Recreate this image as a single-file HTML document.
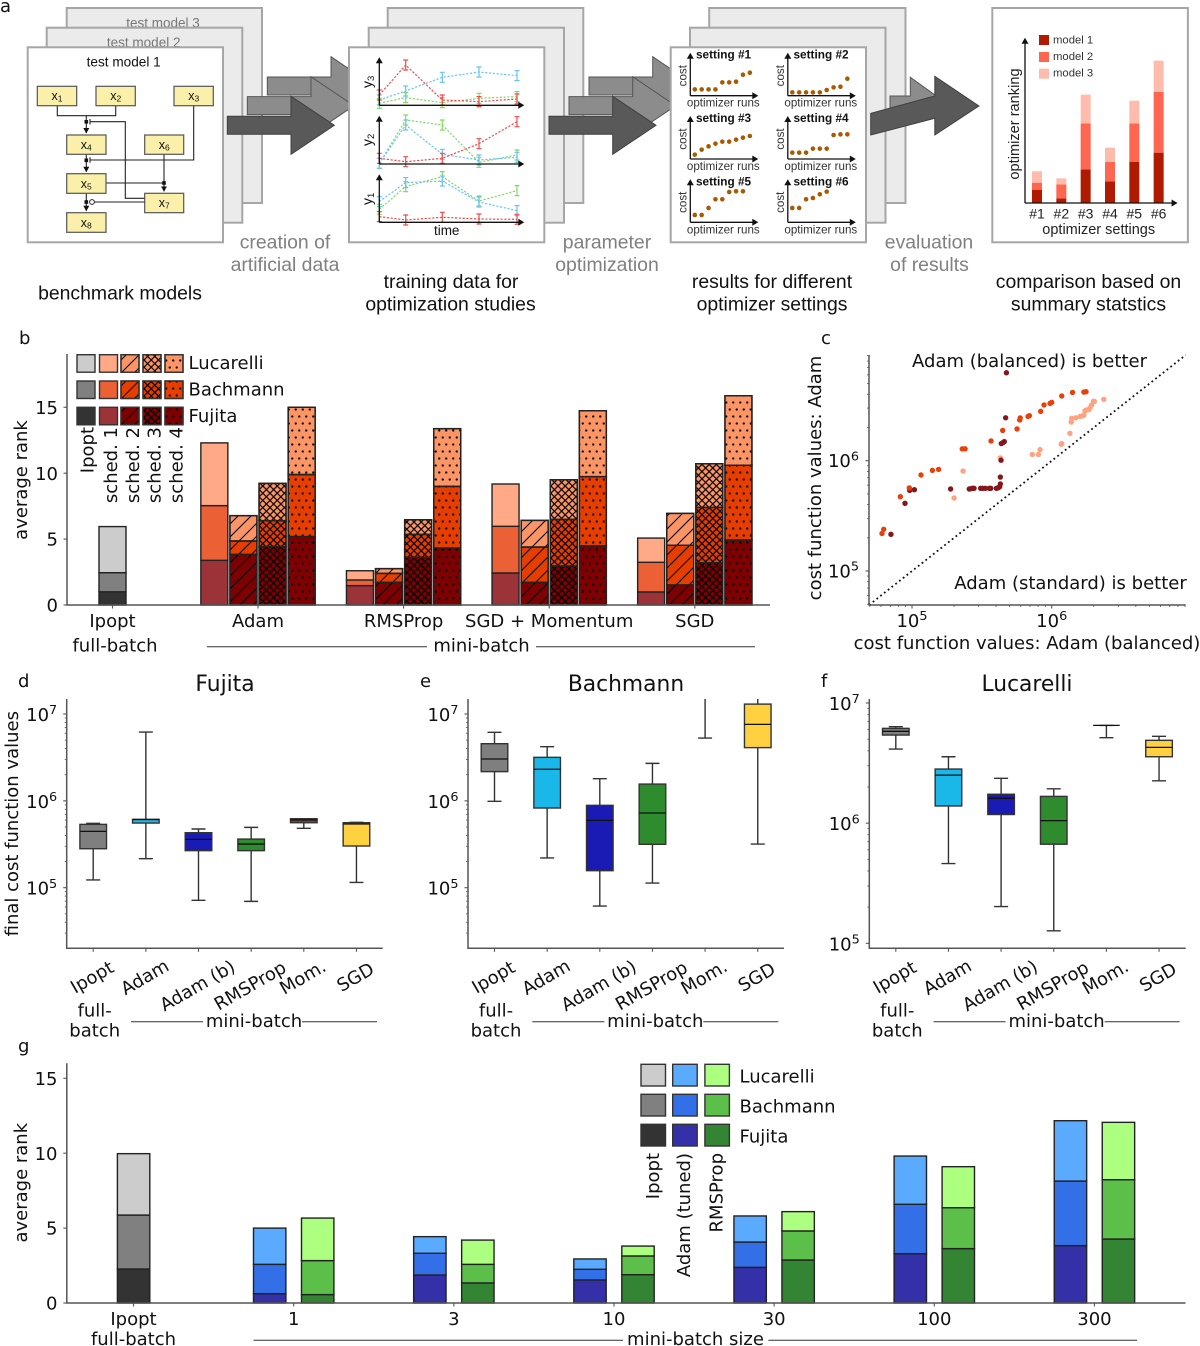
<!DOCTYPE html>
<html lang="en">
<head>
<meta charset="utf-8">
<title>Optimizer benchmark figure</title>
<style>
html,body{margin:0;padding:0;background:#fff}
svg{display:block}
.dj{font-family:"DejaVu Sans",sans-serif;font-size:18px;fill:#111}
.ls{font-family:"Liberation Sans",sans-serif;fill:#111}
.cap{font-family:"Liberation Sans",sans-serif;font-size:19.4px;fill:#111;text-anchor:middle}
.gcap{font-family:"Liberation Sans",sans-serif;font-size:19.4px;fill:#808080;text-anchor:middle}
.mid{text-anchor:middle}
.bx{fill:#faf0aa;stroke:#555;stroke-width:1.2}
.wire{fill:none;stroke:#222;stroke-width:1.1}
.sheet{stroke:#a6a6a6;stroke-width:2;fill:#ebebeb}
.sheet1{stroke:#a6a6a6;stroke-width:2;fill:#fff}
</style>
</head>
<body>
<svg id="fig" xmlns="http://www.w3.org/2000/svg" width="1200" height="1346" viewBox="0 0 1200 1346">
<defs>
<pattern id="h-slash" patternUnits="userSpaceOnUse" width="13" height="13"><path d="M-2 15L15 -2M-2 2L2 -2M11 15L15 11" stroke="#000" stroke-width="1.1" fill="none"/></pattern>
<pattern id="h-cross" patternUnits="userSpaceOnUse" width="7.2" height="7.2"><path d="M0 7.2L7.2 0M0 0L7.2 7.2" stroke="#000" stroke-width="1.15" fill="none"/></pattern>
<pattern id="h-dots" patternUnits="userSpaceOnUse" width="7" height="14"><circle cx="1.75" cy="3.5" r="1.15" fill="#000"/><circle cx="5.25" cy="10.5" r="1.15" fill="#000"/></pattern>
<marker id="arrow-small" markerWidth="7" markerHeight="7" refX="5" refY="3" orient="auto" markerUnits="userSpaceOnUse"><path d="M0 0L5.5 3L0 6Z" fill="#111"/></marker>
</defs>

<g id="panel-a">
  <text class="dj" x="0" y="12">a</text>

  <g>
    <rect class="sheet" x="66.7" y="8" width="195.3" height="195"/>
    <text class="ls mid" x="163" y="27.5" font-size="13.5" style="fill:#777">test model 3</text>
    <rect class="sheet" x="46.7" y="27.7" width="195.6" height="195"/>
    <text class="ls mid" x="143.7" y="47" font-size="13.5" style="fill:#777">test model 2</text>
    <rect class="sheet1" x="27.7" y="47.3" width="195.3" height="195"/>
    <text class="ls mid" x="123.7" y="66.5" font-size="13.6">test model 1</text>
    <g>
      <path class="wire" d="M57.3 105.7V115.7H115.7V105.7"/>
      <path class="wire" d="M86.3 115.7V133" marker-end="url(#arrow-small)"/>
      <path class="wire" d="M90 121.7H125.3V198.3H144.7M90 119V124.5"/>
      <path class="wire" d="M193.7 105.7V160H90M90 157.3V162.7"/>
      <path class="wire" d="M86.3 154.3V171.7" marker-end="url(#arrow-small)"/>
      <path class="wire" d="M106 183H164"/>
      <path class="wire" d="M164 154.3V191.3" marker-end="url(#arrow-small)"/>
      <path class="wire" d="M86.3 193.3V210.7" marker-end="url(#arrow-small)"/>
      <path class="wire" d="M94.7 202H144.7"/>
      <circle cx="92" cy="202" r="2.4" fill="#fff" stroke="#222" stroke-width="1"/>
      <rect x="84.5" y="120" width="3.6" height="3.6" fill="#111"/>
      <rect x="84.5" y="158.5" width="3.6" height="3.6" fill="#111"/>
      <rect x="84.5" y="200.2" width="3.6" height="3.6" fill="#111"/>
      <rect x="162.2" y="181.2" width="3.6" height="3.6" fill="#111"/>
    </g>
    <g><rect class="bx" x="37.3" y="86.3" width="39.4" height="19.4"/><text class="ls mid" x="57" y="100" font-size="12.5">x<tspan font-size="8.5" dy="1.5">1</tspan></text></g>
    <g><rect class="bx" x="96" y="86.3" width="39.3" height="19.4"/><text class="ls mid" x="115.7" y="100" font-size="12.5">x<tspan font-size="8.5" dy="1.5">2</tspan></text></g>
    <g><rect class="bx" x="174" y="86.3" width="39.3" height="19.4"/><text class="ls mid" x="193.7" y="100" font-size="12.5">x<tspan font-size="8.5" dy="1.5">3</tspan></text></g>
    <g><rect class="bx" x="66.7" y="135" width="39.3" height="19.3"/><text class="ls mid" x="86.3" y="149" font-size="12.5">x<tspan font-size="8.5" dy="1.5">4</tspan></text></g>
    <g><rect class="bx" x="144.7" y="135" width="39" height="19.3"/><text class="ls mid" x="164.2" y="149" font-size="12.5">x<tspan font-size="8.5" dy="1.5">6</tspan></text></g>
    <g><rect class="bx" x="66.7" y="173.7" width="39.3" height="19.6"/><text class="ls mid" x="86.3" y="188" font-size="12.5">x<tspan font-size="8.5" dy="1.5">5</tspan></text></g>
    <g><rect class="bx" x="144.7" y="193.3" width="39" height="19.4"/><text class="ls mid" x="164.2" y="207" font-size="12.5">x<tspan font-size="8.5" dy="1.5">7</tspan></text></g>
    <g><rect class="bx" x="66.7" y="212.7" width="39.3" height="19.6"/><text class="ls mid" x="86.3" y="227" font-size="12.5">x<tspan font-size="8.5" dy="1.5">8</tspan></text></g>
  </g>

  <g>
    <path d="M267.3 77H331V56.7L374.3 86L331 115.3V95H267.3Z" fill="#8c8c8c" stroke="#555" stroke-width="1"/>
    <path d="M247.3 96.6H311V76.7L354 105.7L311 134.7V114.6H247.3Z" fill="#8c8c8c" stroke="#555" stroke-width="1"/>
    <path d="M227.3 116.3H291V96.3L334.3 125.3L291 154.3V134.3H227.3Z" fill="#595959" stroke="#404040" stroke-width="1"/>
  </g>

  <g>
    <rect class="sheet" x="387.7" y="8" width="195.6" height="195"/>
    <rect class="sheet" x="368.7" y="27.7" width="195.3" height="195"/>
    <rect class="sheet1" x="349" y="47.3" width="195.3" height="195"/>
    <g id="training-plots"></g>
    <text class="ls" transform="translate(372,88) rotate(-90)" font-size="14">y<tspan font-size="9.5" dy="2">3</tspan></text>
    <text class="ls" transform="translate(372,146) rotate(-90)" font-size="14">y<tspan font-size="9.5" dy="2">2</tspan></text>
    <text class="ls" transform="translate(372,205) rotate(-90)" font-size="14">y<tspan font-size="9.5" dy="2">1</tspan></text>
    <text class="ls mid" x="446.7" y="235" font-size="13.5">time</text>
  </g>

  <g transform="translate(321.7,0)">
    <path d="M267.3 77H331V56.7L374.3 86L331 115.3V95H267.3Z" fill="#8c8c8c" stroke="#555" stroke-width="1"/>
    <path d="M247.3 96.6H311V76.7L354 105.7L311 134.7V114.6H247.3Z" fill="#8c8c8c" stroke="#555" stroke-width="1"/>
    <path d="M227.3 116.3H291V96.3L334.3 125.3L291 154.3V134.3H227.3Z" fill="#595959" stroke="#404040" stroke-width="1"/>
  </g>

  <g>
    <rect class="sheet" x="709.2" y="8" width="196.3" height="195"/>
    <rect class="sheet" x="690" y="27.7" width="195.5" height="195"/>
    <rect class="sheet1" x="670.7" y="47.3" width="195.3" height="195"/>
    <g id="setting-plots"></g>
  </g>

  <g>
    <path d="M910.3 77.3L935 95V110H890V96H910.3Z" fill="#8c8c8c" stroke="#555" stroke-width="1"/>
    <path d="M870.7 113.3L934.8 96V76.3L978.9 106L934.8 135V118.3L870.7 135Z" fill="#595959" stroke="#404040" stroke-width="1"/>
  </g>

  <g>
    <rect class="sheet1" x="992.3" y="8" width="195.6" height="234.3"/>
    <g id="ranking-plot"></g>
    <rect x="1039" y="35" width="10" height="10" fill="#b01a00"/>
    <rect x="1039" y="52" width="10" height="10" fill="#ff6650"/>
    <rect x="1039" y="68.7" width="10" height="10" fill="#ffbcac"/>
    <text class="ls" x="1053" y="43.3" font-size="11.3" style="fill:#333">model 1</text>
    <text class="ls" x="1053" y="60" font-size="11.3" style="fill:#333">model 2</text>
    <text class="ls" x="1053" y="76.6" font-size="11.3" style="fill:#333">model 3</text>
    <text class="ls mid" transform="translate(1019,124) rotate(-90)" font-size="14.6" style="fill:#222">optimizer ranking</text>
    <text class="ls mid" x="1098.7" y="234" font-size="14.5" style="fill:#222">optimizer settings</text>
  </g>

  <text class="cap" x="120" y="299.6">benchmark models</text>
  <text class="gcap" x="285" y="248.6">creation of</text>
  <text class="gcap" x="285" y="271">artificial data</text>
  <text class="cap" x="451" y="288">training data for</text>
  <text class="cap" x="450.5" y="310.4">optimization studies</text>
  <text class="gcap" x="607" y="248.6">parameter</text>
  <text class="gcap" x="607" y="271">optimization</text>
  <text class="cap" x="772" y="288">results for different</text>
  <text class="cap" x="772" y="310.4">optimizer settings</text>
  <text class="gcap" x="929" y="248.6">evaluation</text>
  <text class="gcap" x="929.5" y="271">of results</text>
  <text class="cap" x="1088.5" y="288">comparison based on</text>
  <text class="cap" x="1088.5" y="310.4">summary statstics</text>
</g>

<g id="panel-b">
  <text class="dj" x="19" y="344">b</text>
  <text class="dj mid" transform="translate(27,480) rotate(-90)">average rank</text>
  <text class="dj mid" x="115" y="651.5">full-batch</text>
  <text class="dj mid" x="481.5" y="651.5">mini-batch</text>
  <path d="M207 646.7H427M536 646.7H755" stroke="#333" stroke-width="1"/>
  <text class="dj" x="188.5" y="369">Lucarelli</text>
  <text class="dj" x="188.5" y="395.5">Bachmann</text>
  <text class="dj" x="188.5" y="422">Fujita</text>
  <text class="dj" text-anchor="end" transform="translate(93.5,427) rotate(-90)">Ipopt</text>
  <text class="dj" text-anchor="end" transform="translate(117,427) rotate(-90)">sched. 1</text>
  <text class="dj" text-anchor="end" transform="translate(139,427) rotate(-90)">sched. 2</text>
  <text class="dj" text-anchor="end" transform="translate(160.5,427) rotate(-90)">sched. 3</text>
  <text class="dj" text-anchor="end" transform="translate(182.5,427) rotate(-90)">sched. 4</text>
</g>

<g id="panel-c">
  <text class="dj" x="821" y="344">c</text>
  <text class="dj mid" transform="translate(821,478) rotate(-90)">cost function values: Adam</text>
  <text class="dj mid" x="1027" y="649">cost function values: Adam (balanced)</text>
  <text class="dj mid" x="1029.5" y="367">Adam (balanced) is better</text>
  <text class="dj mid" x="1070.5" y="589">Adam (standard) is better</text>
</g>

<g id="panel-d">
  <text class="dj" x="18" y="687">d</text>
  <text class="dj mid" x="225" y="691" style="font-size:21.8px">Fujita</text>
  <text class="dj mid" transform="translate(18,823.7) rotate(-90)">final cost function values</text>
</g>
<g id="panel-e">
  <text class="dj" x="420" y="687">e</text>
  <text class="dj mid" x="626" y="691" style="font-size:21.8px">Bachmann</text>
</g>
<g id="panel-f">
  <text class="dj" x="821" y="687">f</text>
  <text class="dj mid" x="1027" y="691" style="font-size:21.8px">Lucarelli</text>
</g>

<g id="panel-g">
  <text class="dj" x="18" y="1052">g</text>
  <text class="dj mid" transform="translate(27,1182.7) rotate(-90)">average rank</text>
  <text class="dj mid" x="133.5" y="1345">full-batch</text>
  <text class="dj mid" x="695.5" y="1345">mini-batch size</text>
  <path d="M253.5 1340.3H623M768.4 1340.3H1137" stroke="#333" stroke-width="1"/>
  <text class="dj" x="739.5" y="1082.5">Lucarelli</text>
  <text class="dj" x="739.5" y="1112.5">Bachmann</text>
  <text class="dj" x="739.5" y="1142.5">Fujita</text>
  <text class="dj" text-anchor="end" transform="translate(659,1153) rotate(-90)">Ipopt</text>
  <text class="dj" text-anchor="end" transform="translate(690,1153) rotate(-90)">Adam (tuned)</text>
  <text class="dj" text-anchor="end" transform="translate(722.5,1153) rotate(-90)">RMSProp</text>
</g>
</svg>

<script>
/* ---------- panel a: mini-plot values ---------- */
const trainY3Red = [10.3, 40.3, 5.3, 3.7, 6.3];
const trainY3Blue = [5.3, 14.3, 28, 33.3, 29.7];
const trainY3Green = [2, 7.7, 2.7, 7, 8.7];
const trainY2Red = [5.7, 2.3, 5.7, 20.3, 42.3];
const trainY2Blue = [0.7, 39, 9.7, 4, 6.7];
const trainY2Green = [0.7, 44, 39, 1.7, 9];
const trainY1Red = [5.7, 2.3, 5, 3.3, 3];
const trainY1Blue = [20.7, 39.7, 41.3, 20.3, 11.7];
const trainY1Green = [13, 35.7, 45.7, 21.3, 31.7];
const settingTitles = ['setting #1', 'setting #2', 'setting #3', 'setting #4', 'setting #5', 'setting #6'];
const settingCost1 = [19, 19, 19, 19, 40, 40, 42, 63, 69];
const settingCost2 = [10, 10, 10, 10, 10, 17, 25, 27, 51];
const settingCost3 = [13, 28, 38, 46, 52, 52, 58, 64, 69];
const settingCost4 = [19, 19, 19, 31, 31, 31, 72, 74, 74];
const settingCost5 = [22, 22, 43, 69, 69, 91, 93, 93];
const settingCost6 = [43, 43, 69, 73, 84, 92];
const rankCategories = ['#1', '#2', '#3', '#4', '#5', '#6'];
const rankModel1 = [40, 14, 101, 65, 123, 151];
const rankModel2 = [21, 42, 138, 58, 116, 182];
const rankModel3 = [34, 18, 86, 43, 68, 94];

/* ---------- panel b ---------- */
const bCategories = ['Adam', 'RMSProp', 'SGD + Momentum', 'SGD'];
const bTicks = [0, 5, 10, 15];
const ipoptFujitaB = 1.0;
const ipoptBachmannB = 1.45;
const ipoptLucarelliB = 3.5;
const adamFujita = [3.39, 3.84, 4.43, 5.19];
const adamBachmann = [4.15, 1.02, 1.97, 4.71];
const adamLucarelli = [4.76, 1.92, 2.83, 5.1];
const rmsFujita = [1.47, 1.72, 3.62, 4.32];
const rmsBachmann = [0.43, 0.68, 1.74, 4.68];
const rmsLucarelli = [0.7, 0.36, 1.11, 4.38];
const momFujita = [2.43, 1.72, 2.96, 4.48];
const momBachmann = [3.54, 2.68, 3.54, 5.26];
const momLucarelli = [3.21, 2.02, 3.0, 5.0];
const sgdFujita = [0.99, 1.52, 3.21, 4.93];
const sgdBachmann = [2.25, 3.01, 4.2, 5.67];
const sgdLucarelli = [1.84, 2.42, 3.31, 5.28];

/* ---------- panel c ---------- */
const bachmannBalanced = [6.1e4,6.27e4,8.25e4,9.57e4,1.16e5,1.40e5,1.55e5,2.29e5,2.40e5,3.68e5,4.46e5,5.65e5,5.90e5,5.95e5,6.77e5,6.92e5,8.34e5,8.81e5,9.73e5,1e6,1.18e6,1.41e6,1.70e6,1.76e6];
const bachmannStandard = [2.19e5,2.39e5,4.72e5,5.65e5,7.42e5,8.17e5,8.34e5,1.28e6,1.28e6,1.51e6,1.88e6,1.94e6,2.34e6,2.44e6,2.52e6,2.56e6,2.80e6,3.20e6,3.31e6,3.38e6,3.86e6,4.16e6,4.19e6,4.22e6];
const lucarelliBalanced = [9.57e4,2.00e5,2.32e5,4.29e5,7.27e5,8.03e5,8.25e5,1.17e6,1.18e6,1.35e6,1.38e6,1.39e6,1.49e6,1.60e6,1.67e6,1.70e6,1.73e6,1.76e6,1.84e6,1.88e6,1.93e6,1.99e6,2.02e6,2.36e6];
const lucarelliStandard = [5.69e5,4.59e5,8.06e5,1.06e6,1.14e6,1.14e6,1.26e6,1.41e6,1.43e6,1.77e6,2.24e6,2.42e6,2.45e6,2.52e6,2.56e6,2.59e6,2.82e6,2.88e6,2.90e6,3.02e6,3.20e6,3.45e6,3.45e6,3.60e6];
const fujitaBalanced = [7.07e4,8.91e4,9.62e4,1.04e5,1.89e5,2.57e5,2.65e5,2.70e5,2.78e5,3.10e5,3.21e5,3.35e5,3.58e5,3.66e5,4.02e5,4.15e5,4.24e5,4.29e5,4.29e5,4.34e5,4.36e5,4.48e5,4.58e5,4.68e5,4.74e5];
const fujitaStandard = [2.15e5,4.11e5,5.38e5,5.46e5,5.54e5,5.54e5,5.58e5,5.62e5,5.62e5,5.62e5,5.62e5,5.62e5,5.62e5,5.62e5,5.62e5,5.69e5,5.81e5,6.15e5,7.11e5,1.01e6,1.43e6,1.46e6,1.49e6,2.45e6,6.27e6];

/* ---------- panels d, e, f ---------- */
const boxCategories = ['Ipopt', 'Adam', 'Adam (b)', 'RMSProp', 'Mom.', 'SGD'];
const fujitaLow = [1.23e5, 2.16e5, 7.15e4, 6.96e4, 4.83e5, 1.15e5];
const fujitaQ1 = [2.81e5, 5.55e5, 2.67e5, 2.67e5, 5.60e5, 3.02e5];
const fujitaMedian = [4.45e5, 6.1e5, 3.60e5, 3.18e5, 6.02e5, 5.41e5];
const fujitaQ3 = [5.36e5, 6.12e5, 4.30e5, 3.63e5, 6.23e5, 5.60e5];
const fujitaHigh = [5.51e5, 6.2e6, 4.74e5, 4.95e5, 6.23e5, 5.66e5];
const bachmannLow = [9.87e5, 2.20e5, 6.15e4, 1.13e5, 5.29e6, 3.18e5];
const bachmannQ1 = [2.17e6, 8.27e5, 1.57e5, 3.16e5, 2.2e7, 4.10e6];
const bachmannMedian = [3.03e6, 2.31e6, 5.96e5, 7.24e5, 2.6e7, 7.60e6];
const bachmannQ3 = [4.55e6, 3.17e6, 8.88e5, 1.56e6, 2.8e7, 1.30e7];
const bachmannHigh = [6.15e6, 4.20e6, 1.80e6, 2.70e6, 3.0e7, 2.0e7];
const lucarelliLow = [4.14e6, 4.61e5, 2.02e5, 1.27e5, 5.14e6, 2.25e6];
const lucarelliQ1 = [5.41e6, 1.39e6, 1.18e6, 6.68e5, 6.51e6, 3.57e6];
const lucarelliMedian = [5.81e6, 2.51e6, 1.61e6, 1.05e6, 6.51e6, 4.27e6];
const lucarelliQ3 = [6.15e6, 2.82e6, 1.74e6, 1.67e6, 6.51e6, 4.89e6];
const lucarelliHigh = [6.35e6, 3.57e6, 2.36e6, 1.93e6, 6.51e6, 5.28e6];

/* ---------- panel g ---------- */
const batchSizes = ['1', '3', '10', '30', '100', '300'];
const gTicks = [0, 5, 10, 15];
const ipoptFujitaG = 2.27;
const ipoptBachmannG = 3.6;
const ipoptLucarelliG = 4.1;
const adamTunedFujita = [0.62, 1.87, 1.54, 2.38, 3.29, 3.83];
const adamTunedBachmann = [1.96, 1.45, 0.71, 1.69, 3.3, 4.31];
const adamTunedLucarelli = [2.42, 1.11, 0.69, 1.74, 3.22, 4.03];
const rmsBatchFujita = [0.56, 1.34, 1.89, 2.87, 3.63, 4.27];
const rmsBatchBachmann = [2.27, 1.24, 1.25, 1.94, 2.73, 3.96];
const rmsBatchLucarelli = [2.84, 1.62, 0.66, 1.29, 2.74, 3.83];

/* ---------- helpers ---------- */
const NS = 'http://www.w3.org/2000/svg';
const AXIS = '#555';
function mk(tag, props, parent) {
  const el = document.createElementNS(NS, tag);
  for (const k in props) el.setAttribute(k, props[k]);
  
  parent.appendChild(el);
  return el;
}
function lin(d0, p0, d1, p1) { return v => p0 + (v - d0) * (p1 - p0) / (d1 - d0); }
function logS(d0, p0, d1, p1) { return v => p0 + (Math.log10(v) - Math.log10(d0)) * (p1 - p0) / (Math.log10(d1) - Math.log10(d0)); }
function txt(parent, s, x, y, anchor) {
  const t = mk('text', { x: x, y: y, class: 'dj', 'text-anchor': anchor || 'middle' }, parent);
  t.textContent = s;
  return t;
}
function powerLabel(parent, k, x, y, anchor) {
  const t = mk('text', { x: x, y: y, class: 'dj', 'text-anchor': anchor }, parent);
  t.textContent = '10';
  const s = mk('tspan', { dy: -6.8, style: 'font-size:12.8px' }, t);
  s.textContent = String(k);
  return t;
}

/* ---------- panel a drawings ---------- */
function arrowAxis(parent, x0, yTop, yBase, xEnd) {
  const a = mk('path', { d: 'M' + x0 + ' ' + yBase + 'V' + (yTop + 5) + 'M' + x0 + ' ' + yBase + 'H' + (xEnd - 5), stroke: '#111', 'stroke-width': 1.3, fill: 'none' }, parent);
  
  const h1 = mk('path', { d: 'M' + (x0 - 3.5) + ' ' + (yTop + 6) + 'L' + x0 + ' ' + yTop + 'L' + (x0 + 3.5) + ' ' + (yTop + 6) + 'Z', fill: '#111' }, parent);
  
  const h2 = mk('path', { d: 'M' + (xEnd - 6) + ' ' + (yBase - 3.5) + 'L' + xEnd + ' ' + yBase + 'L' + (xEnd - 6) + ' ' + (yBase + 3.5) + 'Z', fill: '#111' }, parent);
  
}
(function trainingPlots() {
  const host = document.getElementById('training-plots');
  const xs = [379.3, 405.7, 442.3, 479, 517];
  const rows = [
    { base: 105.3, top: 57.3, red: trainY3Red, blue: trainY3Blue, green: trainY3Green },
    { base: 164, top: 115.7, red: trainY2Red, blue: trainY2Blue, green: trainY2Green },
    { base: 222.3, top: 174.3, red: trainY1Red, blue: trainY1Blue, green: trainY1Green }
  ];
  rows.forEach(row => {
    [['#7fdc5f', row.green], ['#66c2ff', row.blue], ['#f04b4b', row.red]].forEach(pair => {
      const col = pair[0], vals = pair[1];
      const pts = vals.map((v, i) => xs[i] + ',' + (row.base - v)).join(' ');
      const line = mk('polyline', { points: pts, fill: 'none', stroke: col, 'stroke-width': 1.2, 'stroke-dasharray': '2.2 1.6' }, host);
      
      vals.forEach((v, i) => {
        const y = row.base - v, x = xs[i];
        const e = mk('path', { d: 'M' + x + ' ' + (y - 5) + 'V' + (y + 5) + 'M' + (x - 2.5) + ' ' + (y - 5) + 'H' + (x + 2.5) + 'M' + (x - 2.5) + ' ' + (y + 5) + 'H' + (x + 2.5), stroke: col, 'stroke-width': 1.2, fill: 'none' }, host);
        
      });
    });
    arrowAxis(host, 379.3, row.top, row.base, 524.3);
  });
})();
(function settingPlots() {
  const host = document.getElementById('setting-plots');
  const series = [settingCost1, settingCost2, settingCost3, settingCost4, settingCost5, settingCost6];
  const colX = [690.3, 787.8];
  const rowBase = [95.7, 159, 222.3];
  series.forEach((vals, idx) => {
    const c = idx % 2, r = Math.floor(idx / 2);
    const x0 = colX[c], base = rowBase[r];
    arrowAxis(host, x0, base - 43, base, x0 + 68);
    const title = mk('text', { x: x0 + 5.7, y: base - 37, class: 'ls', 'font-size': 11.8, 'font-weight': 'bold' }, host);
    title.textContent = settingTitles[idx];
    
    const xl = mk('text', { x: x0 + 33, y: base + 11, class: 'ls', 'font-size': 11.6, 'text-anchor': 'middle', style: 'fill:#333' }, host);
    xl.textContent = 'optimizer runs';
    
    const yl = mk('text', { transform: 'translate(' + (x0 - 4) + ',' + (base - 20) + ') rotate(-90)', class: 'ls', 'font-size': 11.6, 'text-anchor': 'middle', style: 'fill:#333' }, host);
    yl.textContent = 'cost';
    
    vals.forEach((v, i) => {
      const d = mk('circle', { cx: x0 + 4.5 + i * 6.88, cy: base - v / 3, r: 2.3, fill: '#a85a00' }, host);
      
    });
  });
})();
(function rankingPlot() {
  const host = document.getElementById('ranking-plot');
  const y0 = 203;
  const cx = i => 1037 + i * 24.33;
  rankCategories.forEach((cat, i) => {
    let acc = 0;
    [[rankModel1, '#b01a00'], [rankModel2, '#ff6650'], [rankModel3, '#ffbcac']].forEach(pair => {
      const h = pair[0][i] / 3;
      const b = mk('rect', { x: cx(i) - 5, y: y0 - acc - h, width: 10, height: h, fill: pair[1] }, host);
      
      acc += h;
    });
    const t = mk('text', { x: cx(i), y: 218.5, class: 'ls', 'font-size': 14, 'text-anchor': 'middle', style: 'fill:#222' }, host);
    t.textContent = cat;
    
  });
  arrowAxis(host, 1025, 37.7, 203, 1177.6);
})();

/* ---------- stacked bars ---------- */
function segBar(parent, cx, w, y, base, vals, fills, hatch) {
  let acc = base;
  vals.forEach((v, i) => {
    const top = acc + v;
    const yT = y(top), yB = y(acc);
    const r = mk('rect', { x: cx - w / 2, y: yT, width: w, height: yB - yT, fill: fills[i], stroke: '#222', 'stroke-width': 1.4 }, parent);
    
    if (hatch) {
      const o = mk('rect', { x: cx - w / 2, y: yT, width: w, height: yB - yT, fill: 'url(#' + hatch + ')', stroke: '#222', 'stroke-width': 1.4 }, parent);
      
    }
    acc = top;
  });
}
function swatch(parent, x, y, w, h, fill, hatch) {
  const r = mk('rect', { x: x, y: y, width: w, height: h, fill: fill, stroke: '#333', 'stroke-width': 1.4 }, parent);
  
  if (hatch) {
    const o = mk('rect', { x: x, y: y, width: w, height: h, fill: 'url(#' + hatch + ')', stroke: '#333', 'stroke-width': 1.4 }, parent);
    
  }
}

/* ---------- panel b ---------- */
(function panelB() {
  const host = document.getElementById('panel-b');
  const y = lin(0, 605, 15, 407.3);
  const ipoptFill = ['#333333', '#808080', '#cccccc'];
  const schedFills = [
    ['#9c3338', '#ec6035', '#ffa987'],
    ['#7f0000', '#e63d00', '#fb9566'],
    ['#7f0000', '#e63d00', '#fb9566'],
    ['#7f0000', '#e63d00', '#fb9566']
  ];
  const schedHatch = [null, 'h-slash', 'h-cross', 'h-dots'];
  const groups = [
    [adamFujita, adamBachmann, adamLucarelli],
    [rmsFujita, rmsBachmann, rmsLucarelli],
    [momFujita, momBachmann, momLucarelli],
    [sgdFujita, sgdBachmann, sgdLucarelli]
  ];
  const gx = i => 258 + i * 145.6;
  segBar(host, 112.5, 27, y, 0, [ipoptFujitaB, ipoptBachmannB, ipoptLucarelliB], ipoptFill, null);
  groups.forEach((g, gi) => {
    [0, 1, 2, 3].forEach(s => {
      segBar(host, gx(gi) - 43.65 + s * 29.1, 27, y, 0, [g[0][s], g[1][s], g[2][s]], schedFills[s], schedHatch[s]);
    });
  });
  const ax = mk('path', { d: 'M67 354V605H770', stroke: AXIS, 'stroke-width': 1.5, fill: 'none' }, host);
  
  bTicks.forEach(v => {
    const t = mk('path', { d: 'M63.5 ' + y(v) + 'H67', stroke: AXIS, 'stroke-width': 1.1 }, host);
    
    const l = txt(host, String(v), 58, y(v) + 6.6, 'end');
    
  });
  const tk = mk('path', { d: 'M112.5 605V608.5', stroke: AXIS, 'stroke-width': 1.1 }, host);
  
  const ipl = txt(host, 'Ipopt', 112.5, 627);
  
  bCategories.forEach((c, i) => {
    const t = mk('path', { d: 'M' + gx(i) + ' 605V608.5', stroke: AXIS, 'stroke-width': 1.1 }, host);
    
    const l = txt(host, c, gx(i), 627);
    
  });
  const rowsY = [354.7, 381, 407.3];
  const colsX = [77, 99.5, 121, 143, 165];
  const lucF = [ipoptFill[2], schedFills[0][2], schedFills[1][2], schedFills[1][2], schedFills[1][2]];
  const bacF = [ipoptFill[1], schedFills[0][1], schedFills[1][1], schedFills[1][1], schedFills[1][1]];
  const fujF = [ipoptFill[0], schedFills[0][0], schedFills[1][0], schedFills[1][0], schedFills[1][0]];
  const hat = [null, null, 'h-slash', 'h-cross', 'h-dots'];
  [lucF, bacF, fujF].forEach((row, r) => {
    row.forEach((f, c) => swatch(host, colsX[c], rowsY[r], 18, 17.5, f, hat[c]));
  });
})();

/* ---------- panel c ---------- */
(function panelC() {
  const host = document.getElementById('panel-c');
  const x = logS(1e5, 912, 1e6, 1051.7);
  const y = logS(1e5, 571, 1e6, 460.7);
  const L = 869, R = 1185.7, T = 355, B = 605;
  const diag = mk('path', { d: 'M' + L + ' ' + B + 'L' + R + ' ' + T, stroke: '#111', 'stroke-width': 1.8, 'stroke-dasharray': '1.8 3', fill: 'none' }, host);
  
  [[lucarelliBalanced, lucarelliStandard, '#ffa27f'], [fujitaBalanced, fujitaStandard, '#85171c'], [bachmannBalanced, bachmannStandard, '#e8400a']].forEach(s => {
    s[0].forEach((v, i) => {
      const c = mk('circle', { cx: x(v), cy: y(s[1][i]), r: 2.7, fill: s[2] }, host);
      
    });
  });
  const ax = mk('path', { d: 'M' + L + ' ' + T + 'V' + B + 'H' + R, stroke: AXIS, 'stroke-width': 1.5, fill: 'none' }, host);
  
  [4, 5, 6].forEach(k => {
    for (let m = 1; m < 10; m++) {
      const v = m * Math.pow(10, k);
      const len = m === 1 ? 3.5 : 2;
      if (x(v) >= L && x(v) <= R) {
        const t = mk('path', { d: 'M' + x(v) + ' ' + B + 'V' + (B + len), stroke: AXIS, 'stroke-width': m === 1 ? 1.1 : 0.8 }, host);
        
      }
      if (y(v) >= T && y(v) <= B) {
        const t = mk('path', { d: 'M' + (L - len) + ' ' + y(v) + 'H' + L, stroke: AXIS, 'stroke-width': m === 1 ? 1.1 : 0.8 }, host);
        
      }
    }
  });
  [5, 6].forEach(k => {
    const a = powerLabel(host, k, x(Math.pow(10, k)), 627, 'middle');
    
    const b = powerLabel(host, k, 859, y(Math.pow(10, k)) + 6.4, 'end');
    
  });
})();

/* ---------- panels d, e, f ---------- */
const boxFills = ['#7f7f7f', '#1ab8e8', '#1a1ab5', '#2e8b2e', '#6e4a2f', '#ffd040'];
function boxPanel(hostId, clipId, L, R, y10e5, y10e7, yLabels, low, q1, med, q3, high) {
  const host = document.getElementById(hostId);
  const T = 699, B = 948.3;
  const y = logS(1e5, y10e5, 1e7, y10e7);
  const cp = mk('clipPath', { id: clipId }, host);
  
  const cr = mk('rect', { x: L, y: T, width: R - L, height: B - T }, cp);
  
  const g = mk('g', { 'clip-path': 'url(#' + clipId + ')' }, host);
  
  const cx = i => L + 26.5 + i * 52.65;
  boxCategories.forEach((c, i) => {
    const X = cx(i);
    const wh = mk('path', { d: 'M' + X + ' ' + y(low[i]) + 'V' + y(q1[i]) + 'M' + X + ' ' + y(q3[i]) + 'V' + y(high[i]) + 'M' + (X - 7) + ' ' + y(low[i]) + 'H' + (X + 7) + 'M' + (X - 7) + ' ' + y(high[i]) + 'H' + (X + 7), stroke: '#333', 'stroke-width': 1.4, fill: 'none' }, g);
    
    const b = mk('rect', { x: X - 13.3, y: y(q3[i]), width: 26.6, height: y(q1[i]) - y(q3[i]), fill: boxFills[i], stroke: '#333', 'stroke-width': 1.4 }, g);
    
    const m = mk('path', { d: 'M' + (X - 13.3) + ' ' + y(med[i]) + 'H' + (X + 13.3), stroke: '#111', 'stroke-width': 1.3 }, g);
    
    const t = mk('path', { d: 'M' + X + ' ' + B + 'V' + (B + 3.5), stroke: AXIS, 'stroke-width': 1.1 }, host);
    
    const l = mk('text', { class: 'dj', 'text-anchor': 'middle', transform: 'translate(' + (X + 2) + ',' + (c === 'Adam (b)' || c === 'RMSProp' ? 991 : 982.5) + ') rotate(-30)' }, host);
    l.textContent = c;
    
  });
  const ax = mk('path', { d: 'M' + L + ' ' + T + 'V' + B + 'H' + R, stroke: AXIS, 'stroke-width': 1.5, fill: 'none' }, host);
  
  [4, 5, 6, 7].forEach(k => {
    for (let m = 1; m < 10; m++) {
      const v = m * Math.pow(10, k);
      if (y(v) < T || y(v) > B) continue;
      const len = m === 1 ? 3.5 : 2;
      const t = mk('path', { d: 'M' + (L - len) + ' ' + y(v) + 'H' + L, stroke: AXIS, 'stroke-width': m === 1 ? 1.1 : 0.8 }, host);
      
    }
  });
  yLabels.forEach(k => {
    const p = powerLabel(host, k, L - 9.5, y(Math.pow(10, k)) + 7, 'end');
    
  });
  const f1 = txt(host, 'full-', L + 28, 1016.7);
  
  const f2 = txt(host, 'batch', L + 28, 1036.5);
  
  const mb = txt(host, 'mini-batch', L + 187.3, 1027);
  
  const br = mk('path', { d: 'M' + (L + 64.3) + ' 1021.7H' + (L + 136.3) + 'M' + (L + 235.3) + ' 1021.7H' + (L + 310.3), stroke: '#333', 'stroke-width': 1 }, host);
  
}
boxPanel('panel-d', 'clip-d', 66.7, 382.7, 887.7, 714, [5, 6, 7], fujitaLow, fujitaQ1, fujitaMedian, fujitaQ3, fujitaHigh);
boxPanel('panel-e', 'clip-e', 468, 784, 887.7, 714, [5, 6, 7], bachmannLow, bachmannQ1, bachmannMedian, bachmannQ3, bachmannHigh);
boxPanel('panel-f', 'clip-f', 869.3, 1185.7, 943.3, 703, [5, 6, 7], lucarelliLow, lucarelliQ1, lucarelliMedian, lucarelliQ3, lucarelliHigh);

/* ---------- panel g ---------- */
(function panelG() {
  const host = document.getElementById('panel-g');
  const y = lin(0, 1303, 15, 1078.3);
  const gx = i => 293.7 + i * 160.15;
  const ipoptFill = ['#333333', '#808080', '#cccccc'];
  const blues = ['#3330a8', '#3370e8', '#5aabff'];
  const greens = ['#338533', '#5cbf4a', '#adff80'];
  segBar(host, 133.6, 32.4, y, 0, [ipoptFujitaG, ipoptBachmannG, ipoptLucarelliG], ipoptFill, null);
  batchSizes.forEach((b, i) => {
    segBar(host, gx(i) - 24, 32.4, y, 0, [adamTunedFujita[i], adamTunedBachmann[i], adamTunedLucarelli[i]], blues, null);
    segBar(host, gx(i) + 24, 32.4, y, 0, [rmsBatchFujita[i], rmsBatchBachmann[i], rmsBatchLucarelli[i]], greens, null);
    const t = mk('path', { d: 'M' + gx(i) + ' 1303V1306.5', stroke: AXIS, 'stroke-width': 1.1 }, host);
    
    const l = txt(host, b, gx(i), 1325);
    
  });
  const ax = mk('path', { d: 'M66.8 1063.3V1303H1185.5', stroke: AXIS, 'stroke-width': 1.5, fill: 'none' }, host);
  
  gTicks.forEach(v => {
    const t = mk('path', { d: 'M63.3 ' + y(v) + 'H66.8', stroke: AXIS, 'stroke-width': 1.1 }, host);
    
    const l = txt(host, String(v), 57.5, y(v) + 6.6, 'end');
    
  });
  const tk = mk('path', { d: 'M133.5 1303V1306.5', stroke: AXIS, 'stroke-width': 1.1 }, host);
  
  const ipl = txt(host, 'Ipopt', 133.5, 1325);
  
  const rowY = [1064.3, 1094.3, 1124.3];
  const colX = [641, 672.7, 704.9];
  const rowsF = [[ipoptFill[2], blues[2], greens[2]], [ipoptFill[1], blues[1], greens[1]], [ipoptFill[0], blues[0], greens[0]]];
  rowsF.forEach((row, r) => {
    row.forEach((f, c) => swatch(host, colX[c], rowY[r], 24.5, 21.7, f, null));
  });
})();
</script>
</body>
</html>
